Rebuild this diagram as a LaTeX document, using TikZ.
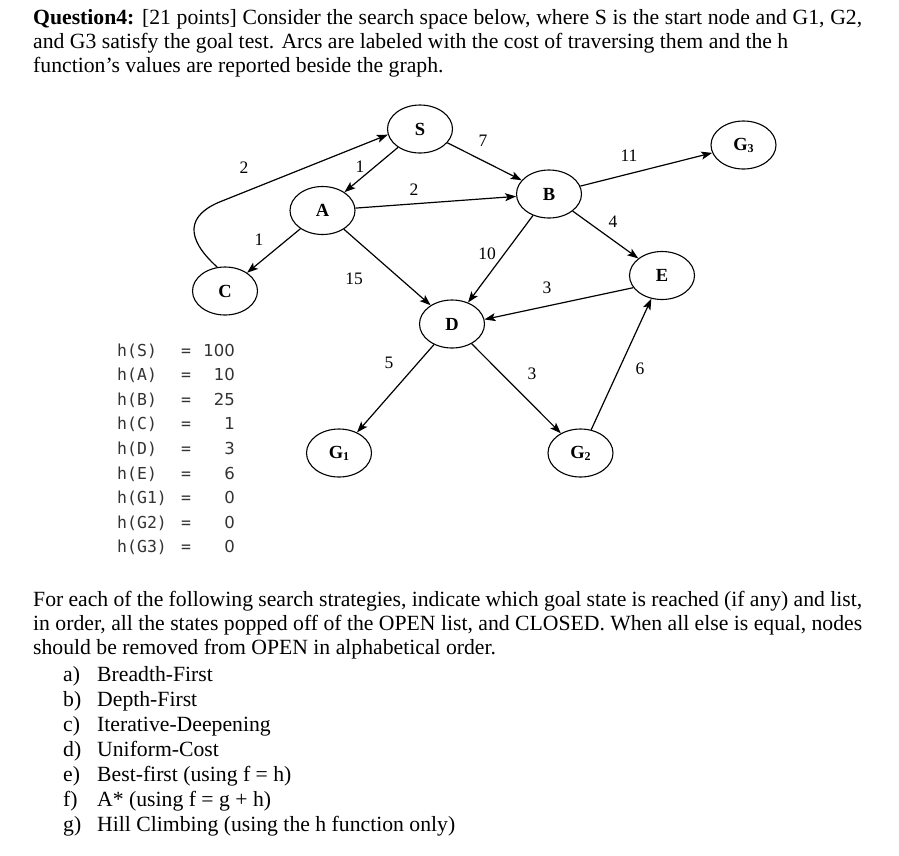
\documentclass[tikz,border=0pt]{standalone}
\usepackage{fontspec}
\setmainfont{Liberation Serif}
\newfontfamily\hmono{DejaVu Sans Mono}
\newfontfamily\hsans{DejaVu Sans}
\usetikzlibrary{shapes.geometric,arrows.meta}
\newcommand\gsub[1]{\raisebox{-0.25ex}{\fontsize{12}{12}\selectfont #1}}
\begin{document}
\begin{tikzpicture}[x=1pt,y=-1pt,
 st/.style={ellipse,draw,line width=1.1pt,minimum width=65pt,minimum height=48pt,inner sep=0pt,font=\fontsize{18.5}{18.5}\selectfont\bfseries},
 arc/.style={draw,line width=1.2pt,-{Stealth[length=11pt,width=8pt,inset=2.5pt]}},
 cost/.style={font=\fontsize{17.5}{17.5}\selectfont,inner sep=0pt},
 txt/.style={anchor=base west,inner sep=0pt,font=\fontsize{21.7}{24}\selectfont},
 hl/.style={anchor=base west,inner sep=0pt,font=\hmono\fontsize{16.5}{16.5}\selectfont,text=black!80},
 he/.style={anchor=base,inner sep=0pt,font=\hmono\fontsize{16.5}{16.5}\selectfont,text=black!80},
 hn/.style={anchor=base east,inner sep=0pt,font=\hsans\fontsize{16.5}{16.5}\selectfont,text=black!80},
]
\useasboundingbox[fill=white] (0,0) rectangle (899,855);
% top text
\node[txt] (t1) at (33,24) {\makebox[829pt][s]{\textbf{Question4:} [21 points] Consider the search space below, where S is the start node and G1, G2,}};
\node[txt] (t2) at (33,48) {and G3 satisfy the goal test. Arcs are labeled with the cost of traversing them and the h};
\node[txt] (t3) at (33,72) {function’s values are reported beside the graph.};
% graph nodes
\node[st] (S) at (420,129) {S};
\node[st] (A) at (322.5,210.5) {A};
\node[st] (B) at (549,194) {B};
\node[st] (C) at (225,291) {C};
\node[st] (D) at (452,324) {D};
\node[st] (E) at (662,275.5) {E};
\node[st] (G3) at (743.5,145) {G\gsub{3}};
\node[st] (G1) at (339,453) {G\gsub{1}};
\node[st] (G2) at (580.5,453) {G\gsub{2}};
% arcs
\draw[arc] (S) -- (A);
\draw[arc] (S) -- (B);
\draw[arc] (A) -- (B);
\draw[arc] (A) -- (C);
\draw[arc] (A) -- (D);
\draw[arc] (B) -- (D);
\draw[arc] (B) -- (E);
\draw[arc] (B) -- (G3);
\draw[arc] (E.203) -- (D.8);
\draw[arc] (D) -- (G1);
\draw[arc] (D) -- (G2);
\draw[arc] (G2) -- (E);
\coordinate (cs) at (222,201);
\draw[arc] (C.108) .. controls (185,238) and (186,215) .. (cs) -- (S.190);
% costs
\node[cost] (c1) at (360,167) {1};
\node[cost] (c2) at (483,141) {7};
\node[cost] (c3) at (414,190) {2};
\node[cost] (c4) at (244,168) {2};
\node[cost] (c5) at (259,240) {1};
\node[cost] (c6) at (354,279) {15};
\node[cost] (c7) at (487,254) {10};
\node[cost] (c8) at (547,288) {3};
\node[cost] (c9) at (613,222) {4};
\node[cost] (c10) at (629,156) {11};
\node[cost] (c11) at (532,374) {3};
\node[cost] (c12) at (640,369) {6};
\node[cost] (c13) at (389,363) {5};
% h table
\foreach \n/\v [count=\i from 0] in {S/100,A/10,B/25,C/1,D/3,E/6,G1/0,G2/0,G3/0}{
  \node[hl] (hl\i) at (117,356+24.6*\i) {h(\n)};
  \node[he] (he\i) at (186,356+24.6*\i) {=};
  \node[hn] (hn\i) at (235,356+24.6*\i) {\v};
}
% bottom text
\node[txt] (p1) at (33,606) {\makebox[829pt][s]{For each of the following search strategies, indicate which goal state is reached (if any) and list,}};
\node[txt] (p2) at (33,630) {\makebox[829pt][s]{in order, all the states popped off of the OPEN list, and CLOSED. When all else is equal, nodes}};
\node[txt] (p3) at (33,654) {should be removed from OPEN in alphabetical order.};
\foreach \l/\t [count=\i from 0] in {a)/Breadth-First,b)/Depth-First,c)/Iterative-Deepening,d)/Uniform-Cost,e)/{Best-first (using f = h)},f)/{A* (using f = g + h)},g)/{Hill Climbing (using the h function only)}}{
  \node[txt] (la\i) at (63,681+25*\i) {\l};
  \node[txt] (lt\i) at (97,681+25*\i) {\t};
}
\end{tikzpicture}
\end{document}
